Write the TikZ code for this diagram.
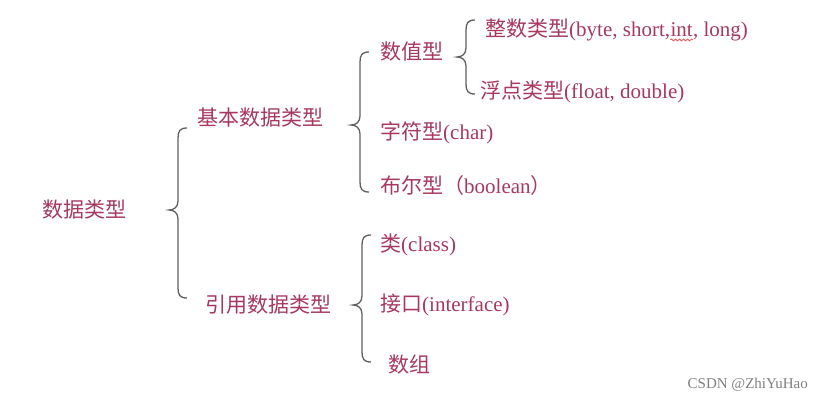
\documentclass[tikz,border=0pt]{standalone}
\usepackage{fontspec}
\setmainfont{Liberation Serif}
\newfontfamily\cjk{Noto Sans CJK SC}
\usetikzlibrary{decorations.pathmorphing}
\definecolor{txt}{HTML}{A8385F}
\definecolor{br}{HTML}{606060}
\tikzset{
 lbl/.style={anchor=west,text=txt,inner sep=0pt,font=\fontsize{21}{24}\selectfont},
 brc/.style={draw=br,line width=1.3pt}
}
\newcommand{\mybrace}[4]{% x, y1, ymid, y2
 \draw[brc] (#1+9,#2) .. controls (#1+2,#2) and (#1,#2+3) .. (#1,#2+10)
  -- (#1,#3-9) .. controls (#1,#3-3) and (#1-4,#3) .. (#1-9,#3)
  .. controls (#1-4,#3) and (#1,#3+3) .. (#1,#3+9)
  -- (#1,#4-10) .. controls (#1,#4-3) and (#1+2,#4) .. (#1+9,#4);}
\begin{document}
\begin{tikzpicture}[x=1pt,y=-1pt]
\fill[white] (0,0) rectangle (824,402);
\useasboundingbox (0,0) rectangle (824,402);
\node[lbl] (root) at (42,210) {\cjk 数据类型};
\node[lbl] (basic) at (197,118) {\cjk 基本数据类型};
\node[lbl] (ref) at (205,305) {\cjk 引用数据类型};
\node[lbl] (num) at (380,52) {\cjk 数值型};
\node[lbl] (int) at (485,30) {{\cjk 整数类型}(byte, short, };
\node[lbl,anchor=base west] (intw) at (int.base east) {int};
\node[lbl,anchor=base west] (intr) at (intw.base east) {, long)};
\node[lbl] (flt) at (480,92) {{\cjk 浮点类型}(float, double)};
\node[lbl] (chr) at (380,133) {{\cjk 字符型}(char)};
\node[lbl] (bool) at (380,186) {{\cjk 布尔型（}boolean{\cjk ）}};
\node[lbl] (cls) at (380,245) {{\cjk 类}(class)};
\node[lbl] (ifc) at (380,305) {{\cjk 接口}(interface)};
\node[lbl] (arr) at (388,365) {\cjk 数组};
\node[anchor=east,text=black!50,inner sep=0pt,font=\fontsize{15}{17}\selectfont] (wm) at (808,385) {CSDN @ZhiYuHao};
\draw[red!80,line width=0.6pt,decorate,decoration={snake,amplitude=1pt,segment length=4pt}] ([yshift=-3pt]intw.south west) -- ([yshift=-3pt]intw.south east);
\mybrace{178}{128}{210}{298}
\mybrace{360}{52}{125}{192}
\mybrace{362}{235}{305}{362}
\mybrace{466}{20}{57}{94}
\end{tikzpicture}
\end{document}
